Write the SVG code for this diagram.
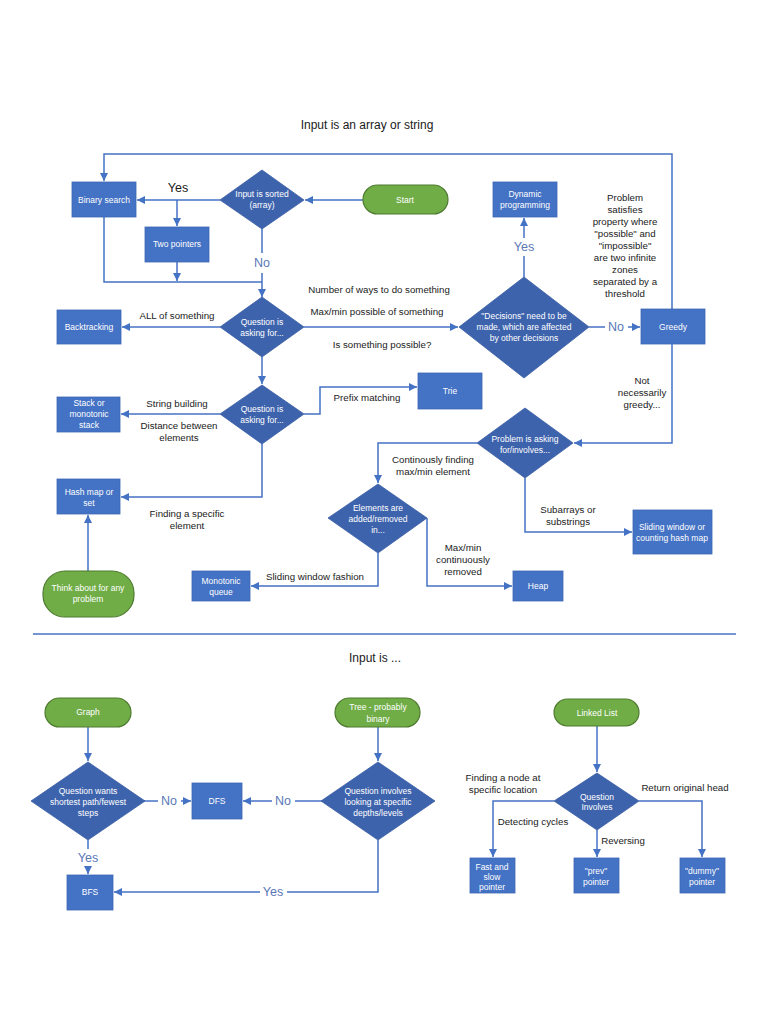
<svg xmlns="http://www.w3.org/2000/svg" width="768" height="1024" viewBox="0 0 768 1024">
<style>
.box{fill:#4472C4;stroke:#3C67B4;stroke-width:0.8}
.dia{fill:#3E63AD;stroke:#3A5EA6;stroke-width:0.8}
.pill{fill:#70AD47;stroke:#4E7B30;stroke-width:1.2}
.wt{font-family:"Liberation Sans",Arial,sans-serif;font-size:8.5px;fill:#FFFFFF;text-anchor:middle;dominant-baseline:central}
.lb{font-family:"Liberation Sans",Arial,sans-serif;font-size:9.7px;fill:#1A1A1A;text-anchor:middle;dominant-baseline:central}
.yn{font-family:"Liberation Sans",Arial,sans-serif;font-size:12.5px;fill:#5A78B8;text-anchor:middle;dominant-baseline:central}
.ttl{font-family:"Liberation Sans",Arial,sans-serif;font-size:12px;fill:#1A1A1A;text-anchor:middle;dominant-baseline:central}
.ln{fill:none;stroke:#4472C4;stroke-width:1.5}
.la{fill:none;stroke:#4472C4;stroke-width:1.5;marker-end:url(#ah)}
</style>
<defs>
<marker id="ah" markerUnits="userSpaceOnUse" markerWidth="9" markerHeight="9" refX="8" refY="4" orient="auto">
<path d="M0,0 L8,4 L0,8 z" fill="#4472C4"/>
</marker>
</defs>
<rect width="768" height="1024" fill="#FFFFFF"/>

<text class="ttl" x="367" y="125">Input is an array or string</text>
<line x1="33" y1="634" x2="736" y2="634" stroke="#4472C4" stroke-width="1.5"/>
<text class="ttl" x="375" y="658">Input is ...</text>

<g id="connectors">
<line class="la" x1="363" y1="200" x2="305" y2="200"/>
<line class="la" x1="220" y1="200" x2="137" y2="200"/>
<line class="la" x1="177" y1="200" x2="177" y2="226"/>
<line class="la" x1="177" y1="262" x2="177" y2="281"/>
<polyline class="ln" points="104,217 104,282 262,282"/>
<line class="ln" x1="262" y1="229" x2="262" y2="253"/>
<line class="la" x1="262" y1="273" x2="262" y2="297"/>
<polyline class="la" points="672,309 672,154 104,154 104,181"/>
<line class="la" x1="220" y1="327" x2="122" y2="327"/>
<line class="la" x1="304" y1="327" x2="458" y2="327"/>
<line class="la" x1="262" y1="357" x2="262" y2="384"/>
<line class="ln" x1="524" y1="277" x2="524" y2="256"/>
<line class="la" x1="524" y1="238" x2="524" y2="218"/>
<line class="ln" x1="589" y1="327" x2="605" y2="327"/>
<line class="la" x1="628" y1="327" x2="640" y2="327"/>
<polyline class="la" points="672,344 672,443 574,443"/>
<line class="la" x1="220" y1="414" x2="121" y2="414"/>
<polyline class="la" points="304,414 320,414 320,387 417,387"/>
<polyline class="la" points="262,444 262,497 121,497"/>
<line class="la" x1="88" y1="571" x2="88" y2="515"/>
<polyline class="la" points="477,443 378,443 378,483"/>
<polyline class="la" points="525,478 525,532 632,532"/>
<polyline class="la" points="378,553 378,586 251,586"/>
<polyline class="la" points="427,518 427,586 512,586"/>

<line class="la" x1="88" y1="727" x2="88" y2="761"/>
<line class="la" x1="378" y1="727" x2="378" y2="761"/>
<line class="ln" x1="144" y1="801" x2="158" y2="801"/>
<line class="la" x1="181" y1="801" x2="191" y2="801"/>
<line class="ln" x1="322" y1="801" x2="295" y2="801"/>
<line class="la" x1="272" y1="801" x2="243" y2="801"/>
<line class="ln" x1="88" y1="840" x2="88" y2="849"/>
<line class="la" x1="88" y1="867" x2="88" y2="874"/>
<polyline class="ln" points="378,840 378,892 287,892"/>
<line class="la" x1="260" y1="892" x2="114" y2="892"/>
<line class="la" x1="597" y1="726" x2="597" y2="772"/>
<polyline class="la" points="554,801 493,801 493,857"/>
<line class="la" x1="597" y1="830" x2="597" y2="857"/>
<polyline class="la" points="639,801 702,801 702,857"/>
</g>

<g id="labels">
<text class="lb" x="178" y="188" style="font-size:12.5px">Yes</text>
<text class="yn" x="262" y="263">No</text>
<text class="lb" x="177" y="315">ALL of something</text>
<text class="lb" x="379" y="289">Number of ways to do something</text>
<text class="lb" x="377" y="311">Max/min possible of something</text>
<text class="lb" x="382" y="344">Is something possible?</text>
<text class="yn" x="524" y="247">Yes</text>
<text class="yn" x="616" y="327">No</text>
<text class="lb" x="625" y="197">Problem</text>
<text class="lb" x="625" y="209">satisfies</text>
<text class="lb" x="625" y="221">property where</text>
<text class="lb" x="625" y="233">"possible" and</text>
<text class="lb" x="625" y="245">"impossible"</text>
<text class="lb" x="625" y="257">are two infinite</text>
<text class="lb" x="625" y="269">zones</text>
<text class="lb" x="625" y="281">separated by a</text>
<text class="lb" x="625" y="293">threshold</text>
<text class="lb" x="642" y="380">Not</text>
<text class="lb" x="642" y="392">necessarily</text>
<text class="lb" x="642" y="404">greedy...</text>
<text class="lb" x="177" y="403">String building</text>
<text class="lb" x="179" y="425">Distance between</text>
<text class="lb" x="179" y="437">elements</text>
<text class="lb" x="367" y="397">Prefix matching</text>
<text class="lb" x="187" y="513">Finding a specific</text>
<text class="lb" x="187" y="525">element</text>
<text class="lb" x="433" y="459">Continously finding</text>
<text class="lb" x="433" y="471">max/min element</text>
<text class="lb" x="315" y="576">Sliding window fashion</text>
<text class="lb" x="463" y="547">Max/min</text>
<text class="lb" x="463" y="559">continuously</text>
<text class="lb" x="463" y="571">removed</text>
<text class="lb" x="568" y="509">Subarrays or</text>
<text class="lb" x="568" y="521">substrings</text>
<text class="yn" x="169" y="801">No</text>
<text class="yn" x="283" y="801">No</text>
<text class="yn" x="88" y="858">Yes</text>
<text class="yn" x="273" y="892">Yes</text>
<text class="lb" x="503" y="777">Finding a node at</text>
<text class="lb" x="503" y="789">specific location</text>
<text class="lb" x="685" y="787">Return original head</text>
<text class="lb" x="533" y="821">Detecting cycles</text>
<text class="lb" x="623" y="840">Reversing</text>
</g>

<g id="binary-search"><rect class="box" x="72" y="182" width="64" height="35"/><text class="wt" x="104" y="200">Binary search</text></g>
<g id="two-pointers"><rect class="box" x="145" y="227" width="64" height="35"/><text class="wt" x="177" y="244">Two pointers</text></g>
<g id="input-sorted"><polygon class="dia" points="262,170 304,200 262,229 220,200"/><text class="wt" x="262" y="194">Input is sorted</text><text class="wt" x="262" y="205">(array)</text></g>
<g id="start"><rect class="pill" x="363" y="185" width="85" height="29" rx="14.5"/><text class="wt" x="405" y="200">Start</text></g>
<g id="question-1"><polygon class="dia" points="262,297 304,327 262,357 220,327"/><text class="wt" x="262" y="322">Question is</text><text class="wt" x="262" y="333">asking for...</text></g>
<g id="backtracking"><rect class="box" x="57" y="310" width="64" height="34"/><text class="wt" x="89" y="327">Backtracking</text></g>
<g id="decisions"><polygon class="dia" points="524,277 589,327 524,378 459,327"/><text class="wt" x="524" y="316">"Decisions" need to be</text><text class="wt" x="524" y="327">made, which are affected</text><text class="wt" x="524" y="338">by other decisions</text></g>
<g id="dynamic-programming"><rect class="box" x="493" y="182" width="64" height="35"/><text class="wt" x="525" y="194">Dynamic</text><text class="wt" x="525" y="205">programming</text></g>
<g id="greedy"><rect class="box" x="641" y="309" width="64" height="35"/><text class="wt" x="673" y="327">Greedy</text></g>
<g id="question-2"><polygon class="dia" points="262,385 304,414 262,444 220,414"/><text class="wt" x="262" y="409">Question is</text><text class="wt" x="262" y="420">asking for...</text></g>
<g id="stack"><rect class="box" x="57" y="397" width="63" height="35"/><text class="wt" x="89" y="403">Stack or</text><text class="wt" x="89" y="414">monotonic</text><text class="wt" x="89" y="425">stack</text></g>
<g id="trie"><rect class="box" x="418" y="373" width="64" height="36"/><text class="wt" x="450" y="391">Trie</text></g>
<g id="hash-map"><rect class="box" x="57" y="479" width="63" height="35"/><text class="wt" x="89" y="492">Hash map or</text><text class="wt" x="89" y="503">set</text></g>
<g id="think-about"><rect class="pill" x="43" y="571" width="91" height="46" rx="22"/><text class="wt" x="88" y="588">Think about for any</text><text class="wt" x="88" y="599">problem</text></g>
<g id="problem-asking"><polygon class="dia" points="525,408 573,443 525,478 477,443"/><text class="wt" x="525" y="439">Problem is asking</text><text class="wt" x="525" y="450">for/involves...</text></g>
<g id="elements"><polygon class="dia" points="378,484 427,518 378,553 328,518"/><text class="wt" x="378" y="508">Elements are</text><text class="wt" x="378" y="519">added/removed</text><text class="wt" x="378" y="530">in...</text></g>
<g id="monotonic-queue"><rect class="box" x="192" y="571" width="58" height="30"/><text class="wt" x="221" y="581">Monotonic</text><text class="wt" x="221" y="592">queue</text></g>
<g id="heap"><rect class="box" x="513" y="571" width="50" height="30"/><text class="wt" x="538" y="586">Heap</text></g>
<g id="sliding-window"><rect class="box" x="633" y="510" width="79" height="44"/><text class="wt" x="672" y="527">Sliding window or</text><text class="wt" x="672" y="538">counting hash map</text></g>

<g id="graph"><rect class="pill" x="45" y="698" width="86" height="29" rx="14.5"/><text class="wt" x="88" y="712">Graph</text></g>
<g id="graph-question"><polygon class="dia" points="88,762 145,801 88,840 31,801"/><text class="wt" x="88" y="791">Question wants</text><text class="wt" x="88" y="802">shortest path/fewest</text><text class="wt" x="88" y="813">steps</text></g>
<g id="dfs"><rect class="box" x="192" y="783" width="50" height="36"/><text class="wt" x="217" y="801">DFS</text></g>
<g id="bfs"><rect class="box" x="67" y="875" width="46" height="35"/><text class="wt" x="90" y="892">BFS</text></g>
<g id="tree"><rect class="pill" x="335" y="698" width="85" height="29" rx="14.5"/><text class="wt" x="378" y="707">Tree - probably</text><text class="wt" x="378" y="719">binary</text></g>
<g id="tree-question"><polygon class="dia" points="378,762 435,801 378,840 321,801"/><text class="wt" x="378" y="791">Question involves</text><text class="wt" x="378" y="802">looking at specific</text><text class="wt" x="378" y="813">depths/levels</text></g>
<g id="linked-list"><rect class="pill" x="554" y="699" width="85" height="27" rx="13.5"/><text class="wt" x="597" y="713">Linked List</text></g>
<g id="ll-question"><polygon class="dia" points="597,773 639,801 597,830 554,801"/><text class="wt" x="597" y="797">Question</text><text class="wt" x="597" y="807">Involves</text></g>
<g id="fast-slow"><rect class="box" x="470" y="858" width="45" height="35"/><text class="wt" x="492" y="867">Fast and</text><text class="wt" x="492" y="877">slow</text><text class="wt" x="492" y="887">pointer</text></g>
<g id="prev"><rect class="box" x="574" y="858" width="45" height="35"/><text class="wt" x="596" y="871">"prev"</text><text class="wt" x="596" y="882">pointer</text></g>
<g id="dummy"><rect class="box" x="680" y="858" width="45" height="35"/><text class="wt" x="702" y="871">"dummy"</text><text class="wt" x="702" y="882">pointer</text></g>
</svg>
